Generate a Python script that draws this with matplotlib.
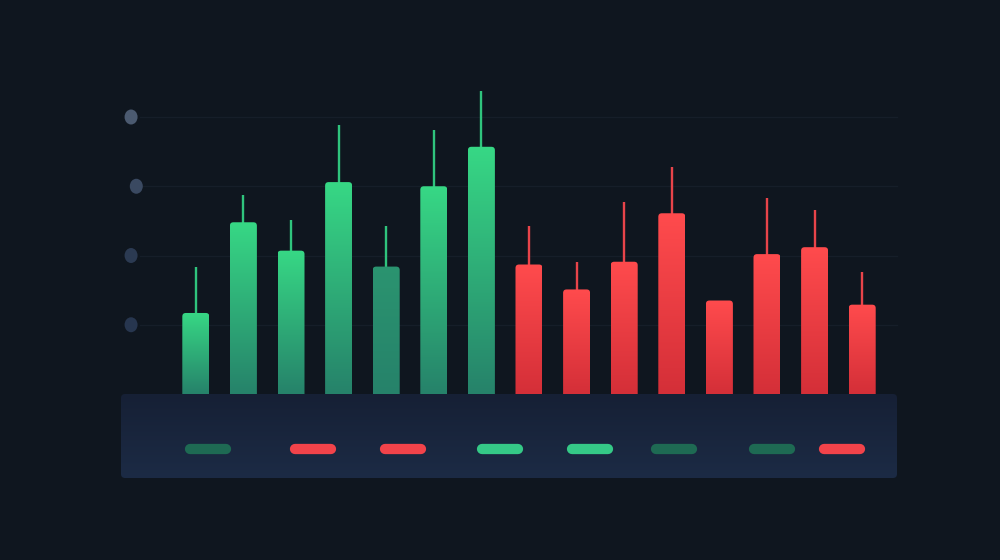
import numpy as np
import matplotlib
matplotlib.use("Agg")
import matplotlib.pyplot as plt
from matplotlib.patches import FancyBboxPatch, Ellipse
from matplotlib.colors import LinearSegmentedColormap

# ---- data ----
body_top = [1.17, 2.48, 2.07, 3.06, 1.84, 3.00, 3.57, 1.87, 1.51, 1.91, 2.61, 1.35, 2.02, 2.12, 1.29]
wick_high = [1.83, 2.87, 2.51, 3.89, 2.43, 3.81, 4.38, 2.43, 1.91, 2.77, 3.28, np.nan, 2.83, 2.66, 1.76]
direction = ['up'] * 7 + ['down'] * 8
faded = [False, False, False, False, True, False, False, False, False, False, False, False, False, False, False]
grid_levels = [1, 2, 3, 4]
strip_pos = [0.26, 2.47, 4.35, 6.39, 8.28, 10.05, 12.10, 13.58]
strip_kind = ['muted', 'down', 'down', 'up', 'up', 'muted', 'muted', 'down']

# ---- style ----
BG = '#0f161f'
GREEN_TOP, GREEN_BOT = '#37d885', '#26826a'
FADED_TOP = '#2b9470'
RED_TOP, RED_BOT = '#ff4b4d', '#d42f38'
WICK = {'up': '#2fc47d', 'down': '#e8444a'}
STRIP_COL = {'muted': '#1e6a53', 'down': '#f2434a', 'up': '#35c987'}

W, H = 1000, 560
fig = plt.figure(figsize=(W / 100, H / 100), dpi=100, facecolor=BG)
ax = fig.add_axes([0, 0, 1, 1])
ax.set_facecolor(BG)

px_x, x0 = 47.6, 195.8     # pixels per unit, pixel of index 0
px_y, y0 = 69.25, 394.0    # pixels per unit, pixel of value 0
ax.set_xlim(-x0 / px_x, (W - x0) / px_x)
ax.set_ylim((y0 - H) / px_y, y0 / px_y)
ax.axis('off')

# grid lines and left dots
grid_right = (897 - x0) / px_x
for lv in grid_levels:
    ax.plot([(140 - x0) / px_x, grid_right], [lv, lv], color='#161e29', lw=0.9, zorder=1)
dot_cols = ['#27364f', '#2b3a52', '#3a4961', '#4b5a70']
dot_x = [-1.36, -1.36, -1.25, -1.36]
for lv, c, dx in zip(grid_levels, dot_cols, dot_x):
    ax.add_patch(Ellipse((dx, lv), 13 / px_x, 15 / px_y, facecolor=c,
                         edgecolor='none', zorder=2))

bw = 27 / px_x
rx = 3.5 / px_x
aspect = (3.5 / px_y) / rx

def grad_cmap(top, bot):
    return LinearSegmentedColormap.from_list('g', [bot, top])

grad = np.linspace(0, 1, 256).reshape(-1, 1)

for i, (top, hi, d, fd) in enumerate(zip(body_top, wick_high, direction, faded)):
    if not np.isnan(hi):
        ax.plot([i, i], [top - 0.05, hi], color=WICK[d], lw=1.7, zorder=3,
                solid_capstyle='butt')
    if d == 'up':
        cm = grad_cmap(FADED_TOP if fd else GREEN_TOP, GREEN_BOT)
    else:
        cm = grad_cmap(RED_TOP, RED_BOT)
    patch = FancyBboxPatch((i - bw / 2, -0.2), bw, top + 0.2,
                           boxstyle=f'round,pad=0,rounding_size={rx}',
                           mutation_aspect=aspect, facecolor='none',
                           edgecolor='none', zorder=4)
    ax.add_patch(patch)
    im = ax.imshow(grad, cmap=cm, origin='lower', aspect='auto',
                   extent=(i - bw / 2, i + bw / 2, 0, top), zorder=4,
                   interpolation='bilinear')
    im.set_clip_path(patch)

# bottom panel
pl, pr = (121 - x0) / px_x, (897 - x0) / px_x
pt, pb = 0.0, (y0 - 478) / px_y
panel = FancyBboxPatch((pl, pb), pr - pl, pt - pb,
                       boxstyle=f'round,pad=0,rounding_size={4 / px_x}',
                       mutation_aspect=(4 / px_y) / (4 / px_x),
                       facecolor='none', edgecolor='none', zorder=5)
ax.add_patch(panel)
pcm = LinearSegmentedColormap.from_list('p', ['#1c2b45', '#162035'])
pim = ax.imshow(grad, cmap=pcm, origin='lower', aspect='auto',
                extent=(pl, pr, pb, pt), zorder=5, interpolation='bilinear')
pim.set_clip_path(panel)

# strip of dashes
half = 18 / px_x
ys = (y0 - 449) / px_y
for xp, k in zip(strip_pos, strip_kind):
    ax.plot([xp - half, xp + half], [ys, ys], color=STRIP_COL[k], lw=7.4,
            solid_capstyle='round', zorder=6)

fig.savefig('out.png', dpi=100, facecolor=BG)
